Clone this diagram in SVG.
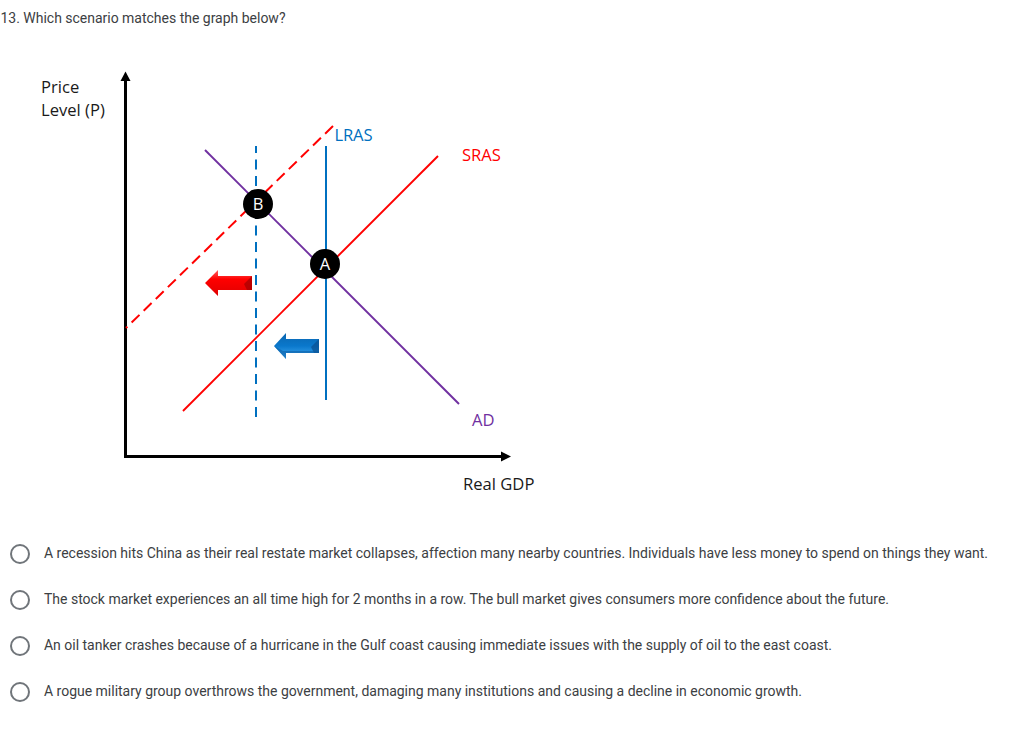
<svg xmlns="http://www.w3.org/2000/svg" width="1022" height="734" viewBox="0 0 1022 734">
<style>
.q{font-family:Roboto,sans-serif;font-size:14px;fill:#3c4043}
.g{font-family:"Open Sans","Noto Sans",sans-serif;font-size:16.6px}
.r{fill:none;stroke:#70757a;stroke-width:2}
.n{font-family:"Open Sans","Noto Sans",sans-serif;font-size:16.5px;fill:#fff;text-anchor:middle}
</style>
<defs>
<linearGradient id="rg" x1="0" y1="0" x2="0" y2="1"><stop offset="0" stop-color="#ff6060"/><stop offset="0.35" stop-color="#ff0000"/><stop offset="1" stop-color="#e00000"/></linearGradient>
<linearGradient id="bg" x1="0" y1="0" x2="0" y2="1"><stop offset="0" stop-color="#0b66b0"/><stop offset="0.5" stop-color="#0a78cc"/><stop offset="1" stop-color="#45aef5"/></linearGradient>
</defs>
<rect width="1022" height="734" fill="#fff"/>
<text class="q" x="0.500" y="23" textLength="285">13. Which scenario matches the graph below?</text>
<g id="connectors">
<path d="M125.500 456V80" stroke="#000" stroke-width="3" fill="none"/>
<path d="M125.500 71.500L130.500 81H120.500Z" fill="#000"/>
<path d="M124 456.500H502" stroke="#000" stroke-width="3" fill="none"/>
<path d="M511 456.500L501 461.500V451.500Z" fill="#000"/>
<path d="M205 150L459 404" stroke="#7030a0" stroke-width="1.900" fill="none"/>
<path d="M183 411L438 156" stroke="#ff0000" stroke-width="1.900" fill="none"/>
<path d="M333 126L126 328" stroke="#ff0000" stroke-width="2" stroke-dasharray="11 5.900" fill="none"/>
<path d="M326 146V400" stroke="#0070c0" stroke-width="2" fill="none"/>
<path d="M256 417V146" stroke="#0070c0" stroke-width="2" stroke-dasharray="10 6.500" fill="none"/>
</g>
<g id="arrow-red">
<path d="M205 283L218 270V276H252V290H218V296Z" fill="url(#rg)"/>
<path d="M252 276V290H247L244 284Z" fill="#a80000" opacity=".75"/>
</g>
<g id="arrow-blue">
<path d="M274 346L286 333V339H319V353H286V359Z" fill="url(#bg)"/>
<path d="M319 339V353H314L311 347Z" fill="#0a4f8f" opacity=".7"/>
<path d="M274 346L286 359V353H319V351H283Z" fill="#0a5a9e" opacity=".55"/>
</g>
<g id="node-B"><circle cx="258" cy="204" r="15" fill="#000"/><text class="n" x="258" y="210">B</text></g>
<g id="node-A"><circle cx="325" cy="264" r="15" fill="#000"/><text class="n" x="325" y="270">A</text></g>
<g id="labels">
<text class="g" x="41" y="93" fill="#1a1a1a">Price</text>
<text class="g" x="41" y="116" fill="#1a1a1a">Level (P)</text>
<text class="g" x="334.500" y="141" fill="#0070c0" textLength="38">LRAS</text>
<text class="g" x="462" y="161" fill="#ff0000">SRAS</text>
<text class="g" x="472" y="426" fill="#7030a0">AD</text>
<text class="g" x="463" y="490" fill="#1a1a1a">Real GDP</text>
</g>
<g id="option-1"><circle class="r" cx="20" cy="554" r="9"/><text class="q" x="44" y="558" textLength="944">A recession hits China as their real restate market collapses, affection many nearby countries. Individuals have less money to spend on things they want.</text></g>
<g id="option-2"><circle class="r" cx="20" cy="600" r="9"/><text class="q" x="44" y="604" textLength="845">The stock market experiences an all time high for 2 months in a row. The bull market gives consumers more confidence about the future.</text></g>
<g id="option-3"><circle class="r" cx="20" cy="646" r="9"/><text class="q" x="44" y="650" textLength="788">An oil tanker crashes because of a hurricane in the Gulf coast causing immediate issues with the supply of oil to the east coast.</text></g>
<g id="option-4"><circle class="r" cx="20" cy="692" r="9"/><text class="q" x="44" y="696" textLength="758">A rogue military group overthrows the government, damaging many institutions and causing a decline in economic growth.</text></g>
</svg>
